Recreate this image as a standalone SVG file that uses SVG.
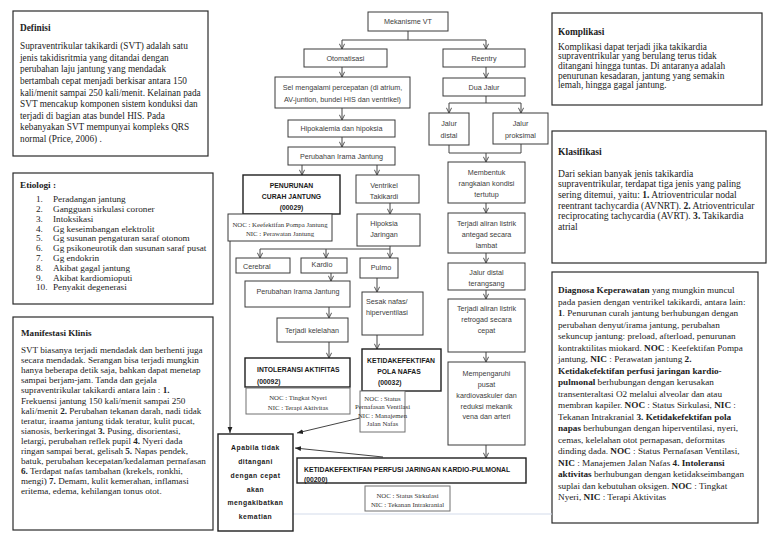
<svg xmlns="http://www.w3.org/2000/svg" width="768" height="543" viewBox="0 0 768 543">
<style>
.panel{fill:#fff;stroke:#2a2a2a;stroke-width:1.2}
.box{fill:#fff;stroke:#3a3a3a;stroke-width:1}
.bx2{fill:#fff;stroke:#1e1e1e;stroke-width:1.4}
.noc{fill:#fff;stroke:#707070;stroke-width:1}
.f{font-family:"Liberation Sans",Arial,sans-serif;font-size:7.2px;fill:#3c3c3c}
.c{text-anchor:middle}
.fb{font-family:"Liberation Sans",Arial,sans-serif;font-weight:bold;font-size:6.8px;fill:#1a1a1a}
.t{font-family:"Liberation Serif","Times New Roman",serif;fill:#222}
.n{font-family:"Liberation Serif","Times New Roman",serif;fill:#333;font-size:6.8px;text-anchor:middle}
.b{font-weight:bold}
.ln{stroke:#444;stroke-width:1;fill:none}
</style>
<defs>
<marker id="v" viewBox="0 0 8 8" refX="7.5" refY="4" markerWidth="6" markerHeight="6" markerUnits="userSpaceOnUse" orient="auto">
<path d="M0.5,0.5 L7.5,4 L0.5,7.5" fill="none" stroke="#444" stroke-width="1.2"/>
</marker>
<marker id="tri" viewBox="0 0 8 8" refX="8" refY="4" markerWidth="6" markerHeight="6" markerUnits="userSpaceOnUse" orient="auto">
<path d="M0,0.8 L8,4 L0,7.2 Z" fill="#222"/>
</marker>
</defs>
<rect width="768" height="543" fill="#fff"/>

<!-- Left panels -->
<g id="definisi">
<rect class="panel" x="13" y="11" width="195" height="145"/>
<text class="t b" x="20" y="31" font-size="9.3">Definisi</text>
<g class="t" font-size="9.3">
<text x="20" y="49.2">Supraventrikular takikardi (SVT) adalah satu</text>
<text x="20" y="60.8">jenis takidisritmia yang ditandai dengan</text>
<text x="20" y="72.4">perubahan laju jantung yang mendadak</text>
<text x="20" y="84">bertambah cepat menjadi berkisar antara 150</text>
<text x="20" y="95.6">kali/menit sampai 250 kali/menit. Kelainan pada</text>
<text x="20" y="107.2">SVT mencakup komponen sistem konduksi dan</text>
<text x="20" y="118.8">terjadi di bagian atas bundel HIS. Pada</text>
<text x="20" y="130.4">kebanyakan SVT mempunyai kompleks QRS</text>
<text x="20" y="142">normal (Price, 2006) .</text>
</g>
</g>

<g id="etiologi">
<rect class="panel" x="13" y="173" width="200" height="131"/>
<text class="t b" x="20" y="188" font-size="9.2">Etiologi :</text>
<g class="t" font-size="9.2">
<text x="36" y="202.2">1.</text><text x="53" y="202.2">Peradangan jantung</text>
<text x="36" y="212">2.</text><text x="53" y="212">Gangguan sirkulasi coroner</text>
<text x="36" y="221.8">3.</text><text x="53" y="221.8">Intoksikasi</text>
<text x="36" y="231.6">4.</text><text x="53" y="231.6">Gg keseimbangan elektrolit</text>
<text x="36" y="241.4">5.</text><text x="53" y="241.4">Gg susunan pengaturan saraf otonom</text>
<text x="36" y="251.2">6.</text><text x="53" y="251.2">Gg psikoneurotik dan susunan saraf pusat</text>
<text x="36" y="261">7.</text><text x="53" y="261">Gg endokrin</text>
<text x="36" y="270.8">8.</text><text x="53" y="270.8">Akibat gagal jantung</text>
<text x="36" y="280.6">9.</text><text x="53" y="280.6">Akibat kardiomioputi</text>
<text x="36" y="290.4">10.</text><text x="53" y="290.4">Penyakit degenerasi</text>
</g>
</g>

<g id="manifestasi">
<rect class="panel" x="13" y="317" width="200" height="213"/>
<text class="t b" x="21" y="336" font-size="9.1">Manifestasi Klinis</text>
<g class="t" font-size="9.1">
<text x="21" y="353">SVT biasanya terjadi mendadak dan berhenti juga</text>
<text x="21" y="363.1">secara mendadak. Serangan bisa terjadi mungkin</text>
<text x="21" y="373.2">hanya beberapa detik saja, bahkan dapat menetap</text>
<text x="21" y="383.3">sampai berjam-jam. Tanda dan gejala</text>
<text x="21" y="393.4">supraventrikular takikardi antara lain : <tspan class="b">1.</tspan></text>
<text x="21" y="403.5">Frekuensi jantung 150 kali/menit sampai 250</text>
<text x="21" y="413.6">kali/menit <tspan class="b">2.</tspan> Perubahan tekanan darah, nadi tidak</text>
<text x="21" y="423.7">teratur, iraama jantung tidak teratur, kulit pucat,</text>
<text x="21" y="433.8">sianosis, berkeringat <tspan class="b">3.</tspan> Pusing, disorientasi,</text>
<text x="21" y="443.9">letargi, perubahan reflek pupil <tspan class="b">4.</tspan> Nyeri dada</text>
<text x="21" y="454">ringan sampai berat, gelisah <tspan class="b">5.</tspan> Napas pendek,</text>
<text x="21" y="464.1">batuk, perubahan kecepatan/kedalaman pernafasan</text>
<text x="21" y="474.2"><tspan class="b">6.</tspan> Terdapat nafas tambahan (krekels, ronkhi,</text>
<text x="21" y="484.3">mengi) <tspan class="b">7.</tspan> Demam, kulit kemerahan, inflamasi</text>
<text x="21" y="494.4">eritema, edema, kehilangan tonus otot.</text>
</g>
</g>

<!-- Right panels -->
<g id="komplikasi">
<rect class="panel" x="552" y="13" width="210" height="92"/>
<text class="t b" x="558" y="35" font-size="9.4">Komplikasi</text>
<g class="t" font-size="9.4">
<text x="558" y="49.5">Komplikasi dapat terjadi jika takikardia</text>
<text x="558" y="59.2">supraventrikular yang berulang terus tidak</text>
<text x="558" y="68.9">ditangani hingga tuntas. Di antaranya adalah</text>
<text x="558" y="78.6">penurunan kesadaran, jantung yang semakin</text>
<text x="558" y="88.3">lemah, hingga gagal jantung.</text>
</g>
</g>

<g id="klasifikasi">
<rect class="panel" x="552" y="131" width="214" height="132"/>
<text class="t b" x="558" y="155" font-size="9.6">Klasifikasi</text>
<g class="t" font-size="9.6">
<text x="558" y="176.5">Dari sekian banyak jenis takikardia</text>
<text x="558" y="187.2">supraventrikular, terdapat tiga jenis yang paling</text>
<text x="558" y="197.9">sering ditemui, yaitu: <tspan class="b">1.</tspan> Atrioventricular nodal</text>
<text x="558" y="208.6">reentrant tachycardia (AVNRT). <tspan class="b">2.</tspan> Atrioventricular</text>
<text x="558" y="219.3">reciprocating tachycardia (AVRT). <tspan class="b">3.</tspan> Takikardia</text>
<text x="558" y="230">atrial</text>
</g>
</g>

<g id="diagnosa">
<rect class="panel" x="552" y="272" width="206" height="251"/>
<g class="t" font-size="9.2">
<text x="558" y="293.2"><tspan class="b">Diagnosa Keperawatan</tspan> yang mungkin muncul</text>
<text x="558" y="304.7">pada pasien dengan ventrikel takikardi, antara lain:</text>
<text x="558" y="316.2"><tspan class="b">1</tspan>. Penurunan curah jantung berhubungan dengan</text>
<text x="558" y="327.7">perubahan denyut/irama jantung, perubahan</text>
<text x="558" y="339.2">sekuncup jantung: preload, afterload, penurunan</text>
<text x="558" y="350.7">kontraktilitas miokard. <tspan class="b">NOC</tspan> : Keefektifan Pompa</text>
<text x="558" y="362.2">jantung, <tspan class="b">NIC</tspan> : Perawatan jantung <tspan class="b">2.</tspan></text>
<text x="558" y="373.7" class="b">Ketidakefektifan perfusi jaringan kardio-</text>
<text x="558" y="385.2"><tspan class="b">pulmonal</tspan> berhubungan dengan kerusakan</text>
<text x="558" y="396.7">transenteraltasi O2 melalui alveolar dan atau</text>
<text x="558" y="408.2">membran kapiler. <tspan class="b">NOC</tspan> : Status Sirkulasi, <tspan class="b">NIC</tspan> :</text>
<text x="558" y="419.7">Tekanan Intrakranial <tspan class="b">3. Ketidakefektifan pola</tspan></text>
<text x="558" y="431.2"><tspan class="b">napas</tspan> berhubungan dengan hiperventilasi, nyeri,</text>
<text x="558" y="442.7">cemas, kelelahan otot pernapasan, deformitas</text>
<text x="558" y="454.2">dinding dada. <tspan class="b">NOC</tspan> : Status Pernafasan Ventilasi,</text>
<text x="558" y="465.7"><tspan class="b">NIC</tspan> : Manajemen Jalan Nafas <tspan class="b">4. Intoleransi</tspan></text>
<text x="558" y="477.2"><tspan class="b">aktivitas</tspan> berhubungan dengan ketidakseimbangan</text>
<text x="558" y="488.7">suplai dan kebutuhan oksigen. <tspan class="b">NOC</tspan> : Tingkat</text>
<text x="558" y="500.2">Nyeri, <tspan class="b">NIC</tspan> : Terapi Aktivitas</text>
</g>
</g>

<!-- faint page separator -->
<line x1="225" y1="514" x2="552" y2="514" stroke="#d3dbea" stroke-width="1"/>

<!-- Connectors -->
<g id="connectors">
<path class="ln" d="M408,31 V40 M342,40 H486"/>
<line class="ln" x1="342" y1="40" x2="342" y2="49" marker-end="url(#v)"/>
<line class="ln" x1="486" y1="40" x2="486" y2="49" marker-end="url(#v)"/>
<line class="ln" x1="342" y1="67" x2="342" y2="77" marker-end="url(#v)"/>
<line class="ln" x1="486" y1="67" x2="486" y2="78" marker-end="url(#v)"/>
<line class="ln" x1="342" y1="108" x2="342" y2="120" marker-end="url(#v)"/>
<line class="ln" x1="342" y1="137" x2="342" y2="147" marker-end="url(#v)"/>
<line class="ln" x1="302" y1="165" x2="302" y2="175" marker-end="url(#v)"/>
<line class="ln" x1="377" y1="165" x2="377" y2="175" marker-end="url(#v)"/>
<path class="ln" d="M486,96 V103 M449,103 H521"/>
<line class="ln" x1="449" y1="103" x2="449" y2="113" marker-end="url(#v)"/>
<line class="ln" x1="521" y1="103" x2="521" y2="113" marker-end="url(#v)"/>
<path class="ln" d="M449,145 V153 H521 V144"/>
<line class="ln" x1="486" y1="153" x2="486" y2="162" marker-end="url(#v)"/>
<line class="ln" x1="486" y1="203" x2="486" y2="213" marker-end="url(#v)"/>
<line class="ln" x1="486" y1="253" x2="486" y2="263" marker-end="url(#v)"/>
<line class="ln" x1="486" y1="290" x2="486" y2="299" marker-end="url(#v)"/>
<line class="ln" x1="486" y1="352" x2="486" y2="362" marker-end="url(#v)"/>
<line class="ln" x1="486" y1="445" x2="486" y2="458" marker-end="url(#v)"/>
<line class="ln" x1="390" y1="203" x2="390" y2="214" marker-end="url(#v)"/>
<path class="ln" d="M390,246 V249 M260,249 H390"/>
<line class="ln" x1="260" y1="249" x2="260" y2="258" marker-end="url(#v)"/>
<line class="ln" x1="326" y1="249" x2="326" y2="258" marker-end="url(#v)"/>
<line class="ln" x1="390" y1="249" x2="390" y2="258" marker-end="url(#v)"/>
<line class="ln" x1="331" y1="273" x2="331" y2="281" marker-end="url(#v)"/>
<line class="ln" x1="329" y1="307" x2="329" y2="318" marker-end="url(#v)"/>
<line class="ln" x1="329" y1="342" x2="329" y2="358" marker-end="url(#v)"/>
<line class="ln" x1="377" y1="278" x2="377" y2="292" marker-end="url(#v)"/>
<line class="ln" x1="377" y1="335" x2="377" y2="349" marker-end="url(#v)"/>
<line class="ln" x1="230" y1="241" x2="230" y2="433" marker-end="url(#tri)"/>
<line class="ln" x1="360" y1="418" x2="297" y2="433" marker-end="url(#tri)"/>
<line class="ln" x1="383" y1="457" x2="295" y2="448" marker-end="url(#tri)"/>
</g>

<!-- Flowchart nodes -->
<g id="mekanisme"><rect class="box" x="368" y="12" width="80" height="19"/><text class="f c" x="408" y="24">Mekanisme VT</text></g>
<g id="otomatisasi"><rect class="box" x="304" y="49" width="83" height="18"/><text class="f c" x="345.5" y="60.5">Otomatisasi</text></g>
<g id="reentry"><rect class="box" x="443" y="49" width="82" height="18"/><text class="f c" x="484" y="60.5">Reentry</text></g>
<g id="sel"><rect class="box" x="275" y="77" width="135" height="31"/>
<text class="f c" x="342.5" y="90">Sel mengalami percepatan (di atrium,</text>
<text class="f c" x="342.5" y="102">AV-juntion, bundel HIS dan ventrikel)</text></g>
<g id="duajalur"><rect class="box" x="443" y="78" width="82" height="18"/><text class="f c" x="484" y="89.5">Dua Jalur</text></g>
<g id="jalurdistal"><rect class="box" x="429" y="113" width="40" height="32"/>
<text class="f c" x="449" y="126">Jalur</text><text class="f c" x="449" y="138">distal</text></g>
<g id="jalurproksimal"><rect class="box" x="493" y="113" width="55" height="31"/>
<text class="f c" x="520.5" y="126">Jalur</text><text class="f c" x="520.5" y="138">proksimal</text></g>
<g id="hipokalemia"><rect class="box" x="288" y="120" width="107" height="17"/><text class="f c" x="341.5" y="131">Hipokalemia dan hipoksia</text></g>
<g id="perubahan1"><rect class="box" x="288" y="147" width="107" height="18"/><text class="f c" x="341.5" y="158.5">Perubahan Irama Jantung</text></g>
<g id="penurunan"><rect class="bx2" x="243" y="175" width="97" height="39"/>
<text class="fb c" x="291.5" y="187.5" font-size="7.5">PENURUNAN</text>
<text class="fb c" x="291.5" y="198.5" font-size="7.5">CURAH JANTUNG</text>
<text class="fb c" x="291.5" y="209.5" font-size="7.5">(00029)</text></g>
<g id="noc-pompa"><rect class="box" x="228" y="214" width="104" height="27" stroke-width="1.3"/>
<text class="n" x="280" y="227">NOC : Keefektifan Pompa Jantung</text>
<text class="n" x="280" y="236">NIC : Perawatan Jantung</text></g>
<g id="ventrikel"><rect class="box" x="356" y="175" width="63" height="28"/>
<text class="f c" x="384" y="188">Ventrikel</text><text class="f c" x="384" y="199">Takikardi</text></g>
<g id="hipoksia"><rect class="box" x="357" y="214" width="63" height="32"/>
<text class="f c" x="384" y="226">Hipoksia</text><text class="f c" x="384" y="237">Jaringan</text></g>
<g id="cerebral"><rect class="box" x="236" y="258" width="54" height="15"/><text class="f" x="243" y="268.5">Cerebral</text></g>
<g id="kardio"><rect class="box" x="301" y="258" width="46" height="15"/><text class="f c" x="322" y="267">Kardio</text></g>
<g id="pulmo"><rect class="box" x="360" y="258" width="38" height="20"/><text class="f c" x="381" y="270">Pulmo</text></g>
<g id="perubahan2"><rect class="box" x="245" y="281" width="105" height="26"/><text class="f c" x="298" y="294">Perubahan Irama Jantung</text></g>
<g id="kelelahan"><rect class="box" x="277" y="318" width="71" height="24"/><text class="f c" x="312" y="333">Terjadi kelelahan</text></g>
<g id="intoleransi"><rect class="bx2" x="245" y="358" width="105" height="29"/>
<text class="fb" x="257" y="372">INTOLERANSI AKTIFITAS</text>
<text class="fb" x="257" y="384">(00092)</text></g>
<g id="noc-nyeri"><rect class="noc" x="246" y="388" width="104" height="26"/>
<text class="n" x="298" y="400">NOC : Tingkat Nyeri</text>
<text class="n" x="298" y="409.5">NIC : Terapi Aktivitas</text></g>
<g id="sesak"><rect class="box" x="362" y="292" width="61" height="43"/>
<text class="f" x="366" y="304">Sesak nafas/</text><text class="f" x="366" y="315">hiperventilasi</text></g>
<g id="pola"><rect class="bx2" x="362" y="349" width="79" height="42"/>
<text class="fb c" x="401" y="362.5">KETIDAKEFEKTIFAN</text>
<text class="fb c" x="399" y="373.5">POLA NAFAS</text>
<text class="fb" x="378" y="384.5">(00032)</text></g>
<g id="noc-nafas"><rect class="noc" x="360" y="391" width="45" height="41"/>
<text class="n" x="382.5" y="400.5" font-size="5.4">NOC : Status</text>
<text class="n" x="382.5" y="409" font-size="5.4">Pernafasan Ventilasi</text>
<text class="n" x="382.5" y="417.5" font-size="5.4">NIC : Manajemen</text>
<text class="n" x="382.5" y="426" font-size="5.4">Jalan Nafas</text></g>
<g id="membentuk"><rect class="box" x="448" y="162" width="77" height="41"/>
<text class="f c" x="486.5" y="175">Membentuk</text>
<text class="f c" x="486.5" y="186">rangkaian kondisi</text>
<text class="f c" x="486.5" y="197">tertutup</text></g>
<g id="antegad"><rect class="box" x="448" y="213" width="77" height="40"/>
<text class="f c" x="486.5" y="226">Terjadi aliran listrik</text>
<text class="f c" x="486.5" y="237">antegad secara</text>
<text class="f c" x="486.5" y="248">lambat</text></g>
<g id="terangsang"><rect class="box" x="448" y="263" width="77" height="27"/>
<text class="f c" x="486.5" y="275">Jalur distal</text>
<text class="f c" x="486.5" y="286">terangsang</text></g>
<g id="retrogad"><rect class="box" x="448" y="299" width="77" height="53"/>
<text class="f c" x="486.5" y="311">Terjadi aliran listrik</text>
<text class="f c" x="486.5" y="322">retrogad secara</text>
<text class="f c" x="486.5" y="333">cepat</text></g>
<g id="mempengaruhi"><rect class="box" x="448" y="362" width="77" height="83"/>
<text class="f c" x="486.5" y="376">Mempengaruhi</text>
<text class="f c" x="486.5" y="387">pusat</text>
<text class="f c" x="486.5" y="398">kardiovaskuler dan</text>
<text class="f c" x="486.5" y="408.5">reduksi mekanik</text>
<text class="f c" x="486.5" y="418.5">vena dan arteri</text></g>
<g id="perfusi"><rect class="bx2" x="297" y="458" width="229" height="25"/>
<text class="fb" x="304" y="471.5">KETIDAKEFEKTIFAN PERFUSI JARINGAN KARDIO-PULMONAL</text>
<text class="fb" x="304" y="482">(00200)</text></g>
<g id="noc-sirkulasi"><rect class="noc" x="365" y="486" width="85" height="25"/>
<text class="n" x="407.5" y="498">NOC : Status Sirkulasi</text>
<text class="n" x="407.5" y="507">NIC : Tekanan Intrakranial</text></g>
<g id="apabila"><rect class="bx2" x="218" y="434" width="75" height="97"/>
<g class="fb c" font-size="7" letter-spacing="0.5">
<text x="255.5" y="449.5">Apabila tidak</text>
<text x="255.5" y="463.5">ditangani</text>
<text x="255.5" y="478">dengan cepat</text>
<text x="255.5" y="491.5">akan</text>
<text x="255.5" y="505">mengakibatkan</text>
<text x="255.5" y="518.5">kematian</text>
</g></g>
</svg>
